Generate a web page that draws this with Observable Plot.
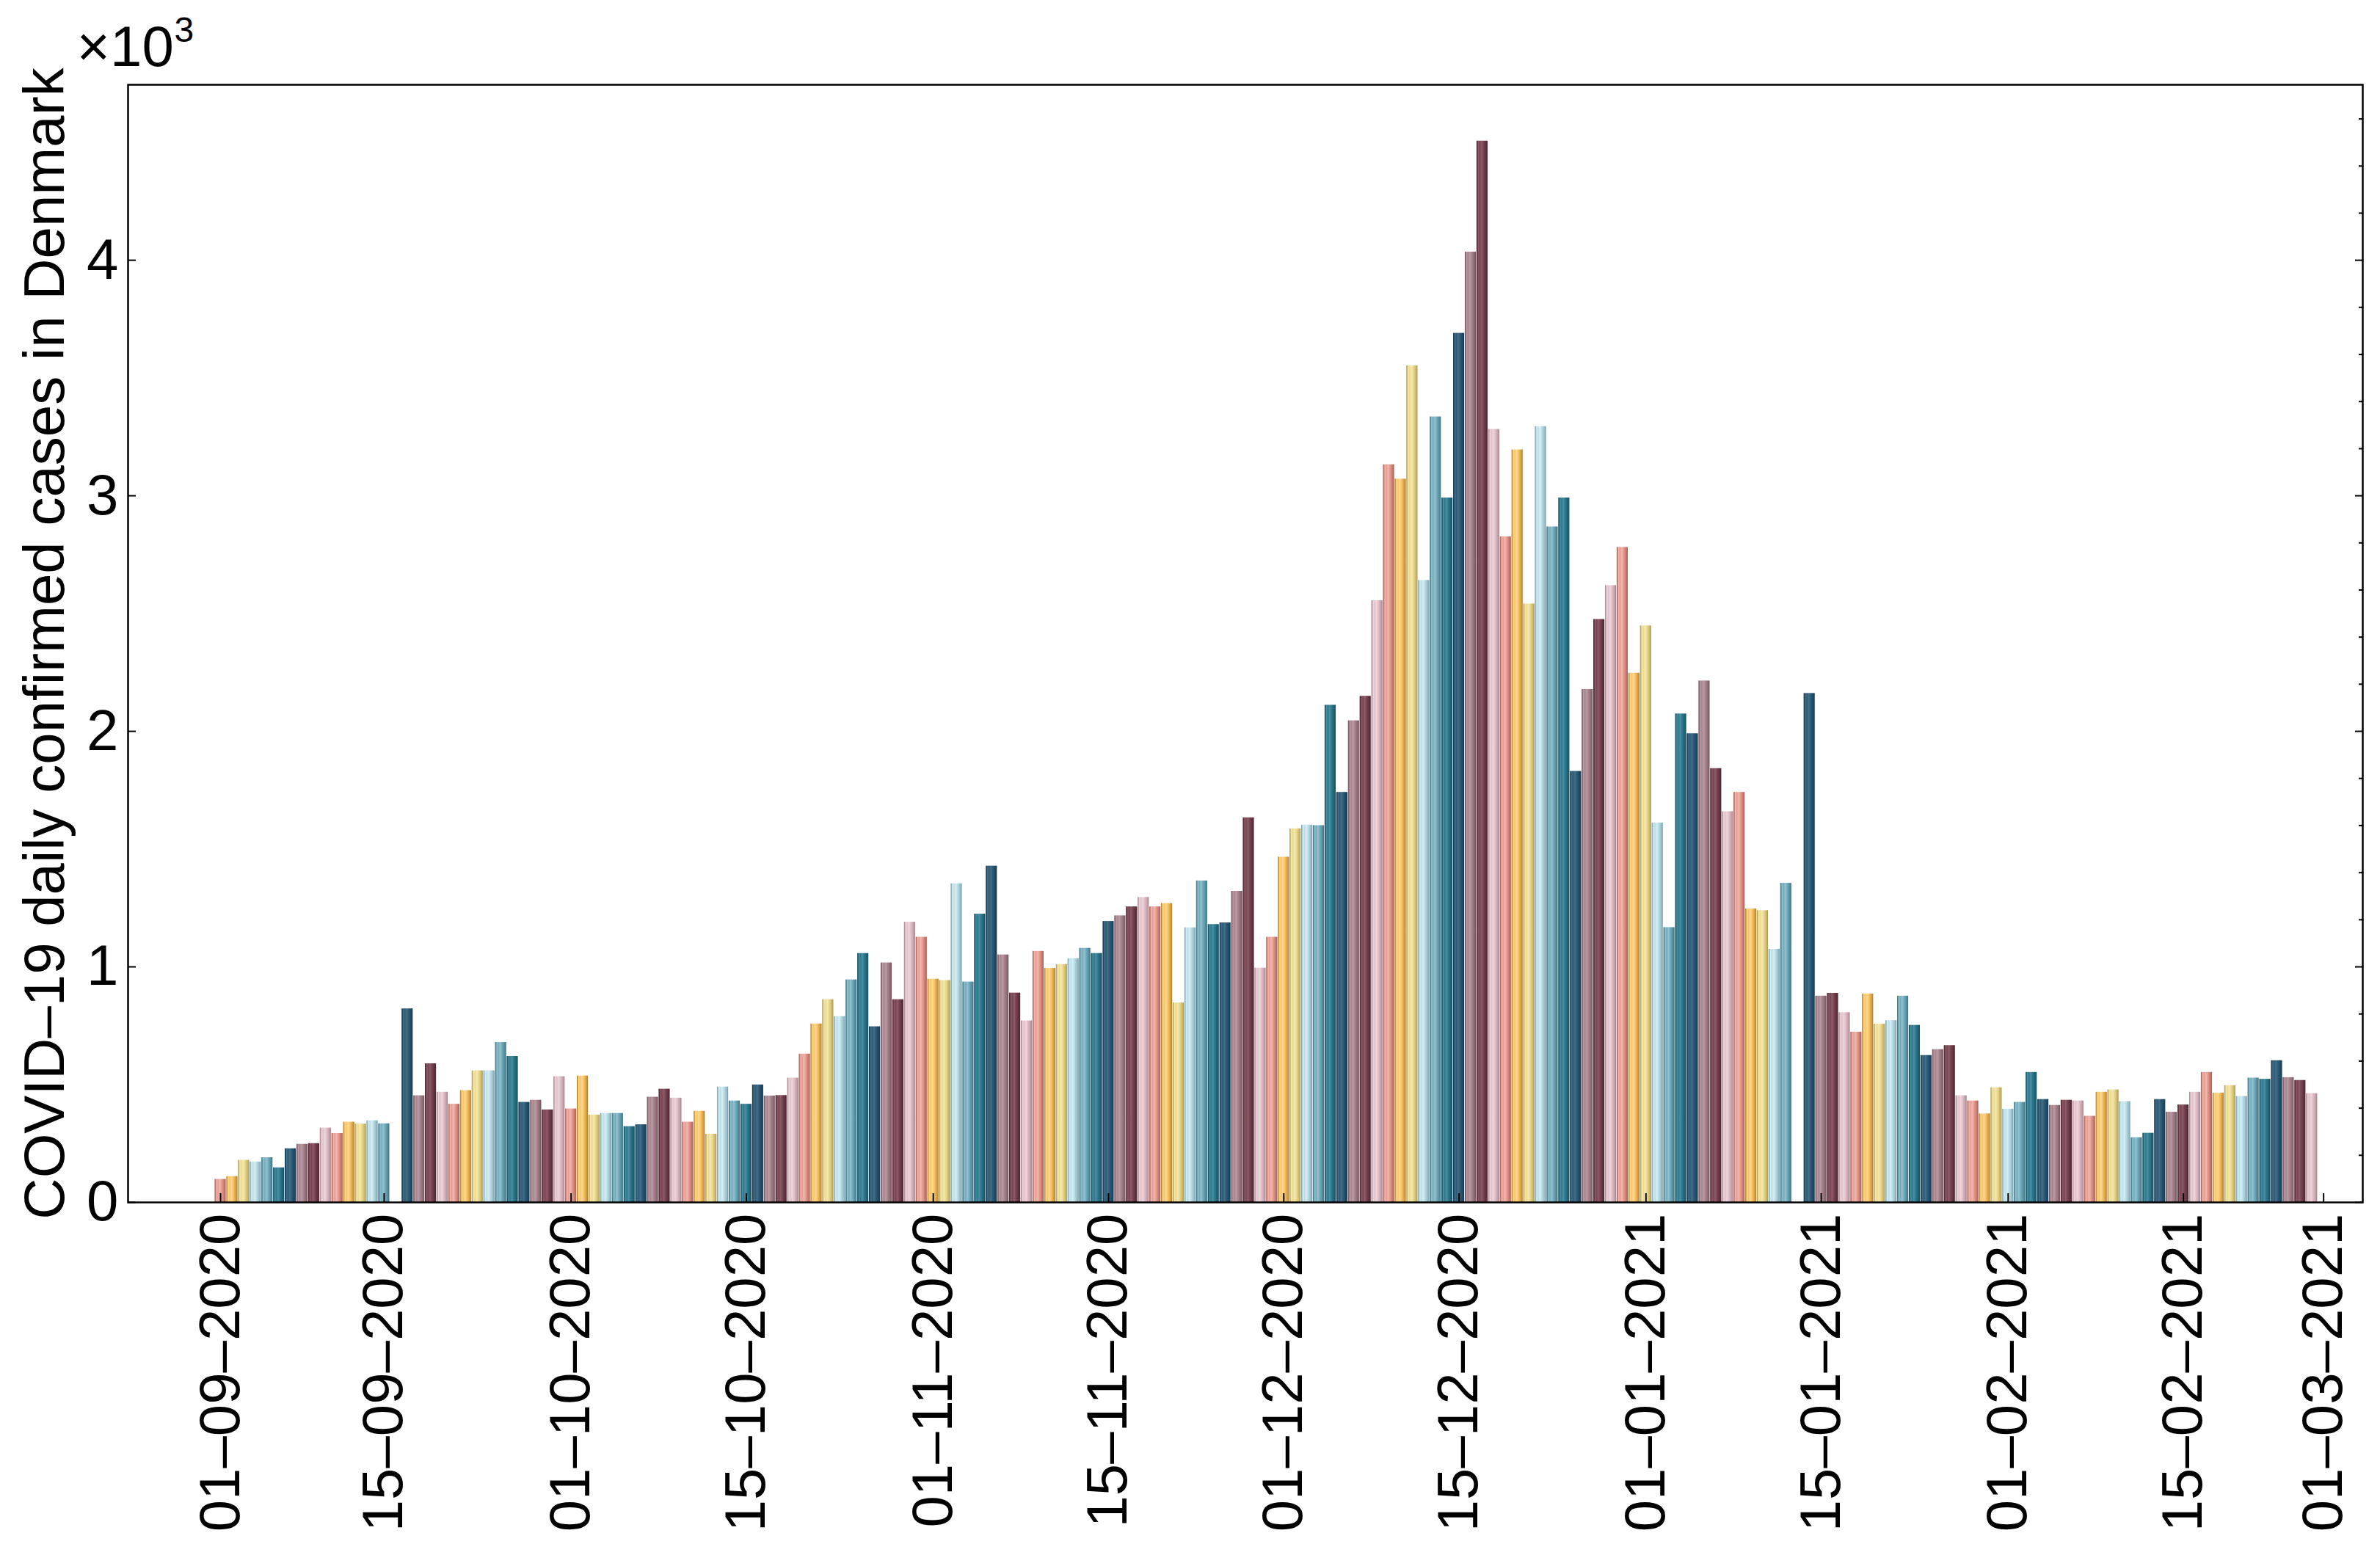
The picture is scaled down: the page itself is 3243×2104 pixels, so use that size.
<!DOCTYPE html>
<html>
<head>
<meta charset="utf-8">
<script src="https://cdn.jsdelivr.net/npm/d3@7"></script>
<script src="https://cdn.jsdelivr.net/npm/@observablehq/plot@0.6"></script>
<style>
  html, body { margin: 0; padding: 0; background: #ffffff; }
  svg { display: block; }
</style>
</head>
<body>
<div id="chart"></div>
<script>
// Daily confirmed COVID-19 cases in Denmark (null = no bar)
const sep2020 = [98, 110, 179, 172, 190, 147, 228, 247, 250, 316, 293, 341, 333, 347, 334, null, 822, 453, 589, 468, 417, 475, 559, 559, 679, 620, 425, 434, 393, 534];
const oct2020 = [397, 537, 371, 378, 378, 322, 330, 447, 481, 443, 341, 387, 290, 490, 431, 417, 499, 452, 454, 528, 630, 758, 861, 789, 945, 1057, 746, 1017, 861, 1190, 1126];
const nov2020 = [948, 942, 1353, 936, 1224, 1428, 1051, 889, 771, 1066, 994, 1010, 1035, 1079, 1057, 1193, 1217, 1255, 1295, 1255, 1269, 847, 1166, 1365, 1180, 1187, 1321, 1633, 995, 1126];
const dec2020 = [1466, 1586, 1602, 1600, 2111, 1741, 2045, 2149, 2555, 3132, 3071, 3552, 2641, 3335, 2991, 3690, 4035, 4506, 3282, 2826, 3195, 2541, 3294, 2868, 2991, 1830, 2178, 2475, 2619, 2781, 2247];
const jan2021 = [2448, 1611, 1167, 2074, 1990, 2214, 1842, 1659, 1741, 1246, 1239, 1075, 1355, null, 2161, 876, 888, 806, 723, 885, 757, 772, 876, 752, 624, 649, 666, 453, 431, 376, 487];
const feb2021 = [396, 425, 552, 437, 412, 434, 431, 366, 468, 478, 428, 275, 294, 437, 383, 414, 468, 552, 464, 496, 450, 528, 523, 602, 530, 518, 462];

const months = [
  {start: "2020-09-01", values: sep2020},
  {start: "2020-10-01", values: oct2020},
  {start: "2020-11-01", values: nov2020},
  {start: "2020-12-01", values: dec2020},
  {start: "2021-01-01", values: jan2021},
  {start: "2021-02-01", values: feb2021}
];

// x-axis ticks (positions as drawn in the reference) and their labels
const tickDates = ["2020-09-01", "2020-09-15", "2020-10-01", "2020-10-16", "2020-11-01", "2020-11-16", "2020-12-01", "2020-12-16", "2021-01-01", "2021-01-16", "2021-02-01", "2021-02-16", "2021-02-28"];
const tickLabels = ["01–09–2020", "15–09–2020", "01–10–2020", "15–10–2020", "01–11–2020", "15–11–2020", "01–12–2020", "15–12–2020", "01–01–2021", "15–01–2021", "01–02–2021", "15–02–2021", "01–03–2021"];
const xDomain = ["2020-08-24T02:00:00Z", "2021-03-03T08:24:00Z"];

const yMajor = [0, 1000, 2000, 3000, 4000];
const yMinor = [200, 400, 600, 800, 1200, 1400, 1600, 1800, 2200, 2400, 2600, 2800, 3200, 3400, 3600, 3800, 4200, 4400, 4600];
const yDomain = [0, 4745];

const yLabel = "COVID–19 daily confirmed cases in Denmark";
const multiplierText = "×10";
const multiplierExp = "3";

// cycling bar colours: [edge, mid, highlight]
const paletteEdge  = ["#c47468", "#d39a3a", "#c8b66a", "#93bcc7", "#4f8a9b", "#1d5f73", "#1c4660", "#8a6771", "#5c2e3d", "#c29ea7"];
const paletteMid   = ["#e69c92", "#f6c46c", "#ead98f", "#bcdde6", "#74aabb", "#2f788c", "#2d5a75", "#a6848d", "#784452", "#e1c1c9"];
const paletteLight = ["#f2b7ae", "#ffd98c", "#f6e9ad", "#d6eff5", "#92c3d0", "#4a90a3", "#466f89", "#bb9ca4", "#8e5c69", "#eed6dc"];

const bars = [];
let dayIndex = 0;
for (const m of months) {
  const start = new Date(m.start);
  m.values.forEach((v, j) => {
    bars.push({date: d3.utcDay.offset(start, j), cases: v, fill: `url(#barGrad${dayIndex % 10})`});
    dayIndex++;
  });
}

const labelByTime = new Map(tickDates.map((d, i) => [+new Date(d), tickLabels[i]]));
const fontSize = 78;

const chart = Plot.plot({
  width: 3243,
  height: 2104,
  marginTop: 115,
  marginRight: 24,
  marginBottom: 466,
  marginLeft: 174,
  style: {fontFamily: "'Liberation Sans', Arial, Helvetica, sans-serif", background: "#ffffff", color: "#000000"},
  x: {type: "utc", domain: xDomain.map(s => new Date(s))},
  y: {domain: yDomain},
  color: {type: "identity"},
  marks: [
    Plot.rectY(bars, {
      x1: d => d3.utcHour.offset(d.date, -12),
      x2: d => d3.utcHour.offset(d.date, 12),
      y: "cases",
      fill: "fill",
      insetLeft: 0.4,
      insetRight: 0.4
    }),
    Plot.frame({stroke: "#000000", strokeWidth: 2.5}),
    Plot.axisY({anchor: "left", ticks: yMajor, tickSize: 0, tickPadding: 13, tickFormat: d => String(d / 1000), fontSize, label: null}),
    Plot.axisY({anchor: "left", ticks: yMajor, tickSize: -11, tickFormat: () => "", strokeWidth: 2, label: null}),
    Plot.axisY({anchor: "right", ticks: yMajor, tickSize: -11, tickFormat: () => "", strokeWidth: 2, label: null}),
    Plot.axisY({anchor: "right", ticks: yMinor, tickSize: -6, tickFormat: () => "", strokeWidth: 2, label: null}),
    Plot.axisX({anchor: "bottom", ticks: tickDates.map(s => new Date(s)), tickSize: 0, tickPadding: 15, tickRotate: -90,
      tickFormat: d => labelByTime.get(+d), fontSize, label: null}),
    Plot.axisX({anchor: "bottom", ticks: tickDates.map(s => new Date(s)), tickSize: -12, tickFormat: () => "", strokeWidth: 2, label: null}),
    Plot.text([yLabel], {frameAnchor: "left", text: d => d, rotate: -90, dx: -88, textAnchor: "middle", lineAnchor: "bottom", fontSize, fill: "#000000"}),
    Plot.text([multiplierText], {frameAnchor: "top-left", text: d => d, dx: -70, dy: -26, textAnchor: "start", lineAnchor: "bottom", fontSize, fill: "#000000"}),
    Plot.text([multiplierExp], {frameAnchor: "top-left", text: d => d, dx: 63, dy: -59, textAnchor: "start", lineAnchor: "bottom", fontSize: 48, fill: "#000000"})
  ]
});

// gradient definitions giving the bars their cylindrical shading
const defs = d3.select(chart).insert("defs", ":first-child");
paletteMid.forEach((mid, i) => {
  const edge = paletteEdge[i], light = paletteLight[i];
  const g = defs.append("linearGradient").attr("id", `barGrad${i}`).attr("x1", 0).attr("x2", 1).attr("y1", 0).attr("y2", 0);
  const stops = [
    [0, d3.color(edge).darker(0.5).formatHex()],
    [0.08, edge],
    [0.16, light],
    [0.3, mid],
    [0.45, light],
    [0.62, mid],
    [0.88, edge],
    [1, d3.color(edge).darker(0.6).formatHex()]
  ];
  stops.forEach(([o, c]) => g.append("stop").attr("offset", o).attr("stop-color", c));
});

document.getElementById("chart").appendChild(chart);
</script>
</body>
</html>
